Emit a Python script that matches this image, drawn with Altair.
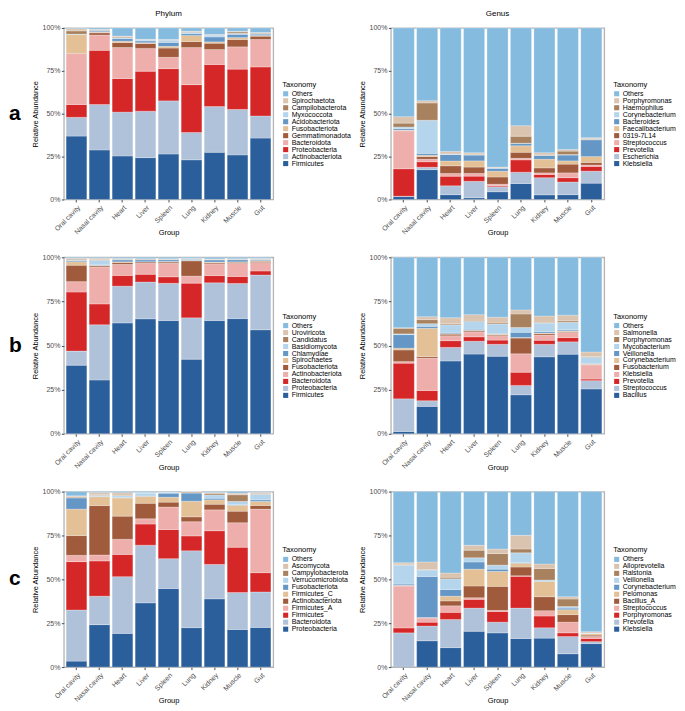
import altair as alt
import pandas as pd

FONT = "Liberation Sans"

groups = ["Oral cavity", "Nasal cavity", "Heart", "Liver", "Spleen",
          "Lung", "Kidney", "Muscle", "Gut"]

# colours by stack position (bottom -> top, last = Others)
palette = ["#2b5f9c", "#afc2da", "#d62728", "#eeaeab", "#a05a3c",
           "#e3c095", "#6496c6", "#b4d5ec", "#a8825f", "#dbc4af", "#85bbdf"]

# ---------------- a : Phylum (bottom -> top) ----------------
a_phylum_taxa = ["Firmicutes", "Actinobacteriota", "Proteobacteria", "Bacteroidota",
                 "Gemmatimonadota", "Fusobacteriota", "Acidobacteriota", "Myxococcota",
                 "Campilobacterota", "Spirochaetota", "Others"]
a_phylum = {
    "Firmicutes":       [37.1, 28.8, 25.4, 24.4, 26.5, 23.1, 27.5, 26.0, 35.8],
    "Actinobacteriota": [11.0, 26.4, 25.6, 27.1, 31.0, 15.9, 26.7, 26.5, 12.9],
    "Proteobacteria":   [7.5, 31.5, 19.6, 23.3, 18.8, 27.9, 24.6, 23.5, 28.6],
    "Bacteroidota":     [29.8, 8.9, 18.1, 13.3, 6.6, 21.6, 8.7, 13.0, 16.0],
    "Gemmatimonadota":  [0.2, 1.3, 2.9, 2.9, 5.4, 3.5, 3.7, 4.3, 1.9],
    "Fusobacteriota":   [10.9, 0.4, 0.8, 0.4, 1.0, 3.5, 0.8, 1.1, 0.4],
    "Acidobacteriota":  [0.2, 0.6, 1.5, 1.0, 2.3, 1.1, 2.9, 1.9, 0.8],
    "Myxococcota":      [0.1, 0.4, 0.6, 0.6, 1.3, 0.8, 1.0, 0.6, 0.4],
    "Campilobacterota": [1.9, 0.4, 0.6, 0.2, 0.2, 0.4, 0.2, 0.8, 0.4],
    "Spirochaetota":    [1.3, 0.2, 0.3, 0.2, 0.2, 0.2, 0.2, 0.4, 0.2],
    "Others":           [0.4, 0.8, 4.7, 6.6, 6.7, 1.9, 3.8, 1.9, 2.6],
}

# ---------------- a : Genus ----------------
a_genus_taxa = ["Klebsiella", "Escherichia", "Prevotella", "Streptococcus", "0319-7L14",
                "Faecalibacterium", "Bacteroides", "Corynebacterium", "Haemophilus",
                "Porphyromonas", "Others"]
a_genus = {
    "Klebsiella":       [1.7, 17.4, 2.8, 1.0, 4.5, 9.3, 2.7, 2.8, 9.5],
    "Escherichia":      [0.2, 1.4, 5.2, 9.6, 2.9, 6.6, 10.0, 7.4, 7.0],
    "Prevotella":       [16.1, 3.2, 5.6, 3.0, 0.6, 7.2, 1.9, 2.5, 2.8],
    "Streptococcus":    [22.2, 1.5, 1.6, 1.6, 0.9, 0.9, 0.9, 2.8, 0.8],
    "0319-7L14":        [0.2, 1.5, 4.5, 3.7, 4.2, 3.5, 2.9, 5.1, 1.5],
    "Faecalibacterium": [0.2, 0.8, 2.8, 3.6, 3.4, 3.8, 5.1, 1.9, 3.4],
    "Bacteroides":      [0.9, 1.1, 3.8, 3.4, 1.7, 1.3, 2.1, 3.4, 9.8],
    "Corynebacterium":  [0.9, 19.3, 0.3, 0.2, 0.2, 0.2, 0.2, 0.3, 0.3],
    "Haemophilus":      [2.3, 10.1, 0.4, 0.3, 0.1, 4.1, 0.5, 2.0, 0.3],
    "Porphyromonas":    [3.8, 1.3, 1.1, 0.8, 0.4, 6.1, 1.0, 1.0, 0.6],
    "Others":           [51.9, 42.4, 72.2, 72.8, 81.1, 57.0, 72.7, 70.8, 64.0],
}

# ---------------- b : Phylum ----------------
b_phylum_taxa = ["Firmicutes", "Proteobacteria", "Bacteroidota", "Actinobacteriota",
                 "Fusobacteriota", "Spirochaetes", "Chlamydiae", "Basidiomycota",
                 "Candidatus", "Uroviricota", "Others"]
b_phylum = {
    "Firmicutes":       [38.9, 30.7, 63.0, 65.4, 64.4, 42.4, 64.4, 65.6, 59.4],
    "Proteobacteria":   [8.0, 31.5, 20.9, 20.9, 21.2, 23.5, 21.5, 20.0, 31.3],
    "Bacteroidota":     [33.5, 11.9, 6.1, 4.4, 3.7, 19.7, 4.1, 4.0, 2.3],
    "Actinobacteriota": [5.9, 21.1, 6.3, 6.3, 7.7, 4.0, 6.7, 7.4, 4.8],
    "Fusobacteriota":   [9.3, 0.7, 1.1, 0.7, 0.7, 8.7, 0.7, 0.7, 0.7],
    "Spirochaetes":     [2.0, 0.2, 0.3, 0.2, 0.3, 0.3, 0.3, 0.2, 0.4],
    "Chlamydiae":       [0.7, 0.3, 1.1, 1.1, 1.0, 0.6, 1.2, 1.2, 0.6],
    "Basidiomycota":    [0.2, 2.6, 0.3, 0.2, 0.2, 0.1, 0.2, 0.2, 0.2],
    "Candidatus":       [0.5, 0.3, 0.2, 0.2, 0.2, 0.2, 0.2, 0.2, 0.2],
    "Uroviricota":      [0.6, 0.9, 0.3, 0.2, 0.2, 0.2, 0.2, 0.2, 0.3],
    "Others":           [0.5, 0.5, 0.7, 0.8, 0.8, 0.6, 0.9, 0.8, 0.6],
}

# ---------------- b : Genus ----------------
b_genus_taxa = ["Bacillus", "Streptococcus", "Prevotella", "Klebsiella", "Fusobacterium",
                "Corynebacterium", "Veillonella", "Mycobacterium", "Porphyromonas",
                "Salmonella", "Others"]
b_genus = {
    "Bacillus":         [1.3, 15.5, 41.3, 45.3, 44.0, 22.1, 43.8, 45.1, 25.5],
    "Streptococcus":    [18.5, 3.2, 7.7, 7.3, 6.8, 5.3, 7.1, 7.0, 4.7],
    "Prevotella":       [20.2, 5.8, 3.8, 2.5, 2.4, 7.5, 2.3, 2.4, 0.9],
    "Klebsiella":       [0.9, 18.3, 2.8, 2.8, 2.5, 10.4, 3.0, 2.9, 7.9],
    "Fusobacterium":    [6.6, 0.9, 0.9, 0.6, 0.6, 8.9, 0.8, 0.6, 0.4],
    "Corynebacterium":  [1.0, 16.0, 0.3, 0.3, 0.3, 0.3, 0.3, 0.3, 0.3],
    "Veillonella":      [7.7, 1.1, 0.7, 0.6, 0.4, 3.0, 0.8, 0.6, 0.3],
    "Mycobacterium":    [0.4, 1.5, 4.3, 4.5, 5.3, 2.7, 4.9, 4.3, 3.5],
    "Porphyromonas":    [3.2, 2.3, 0.6, 0.6, 0.6, 7.7, 0.4, 0.8, 0.4],
    "Salmonella":       [0.3, 1.7, 3.4, 3.2, 3.3, 2.3, 3.6, 3.2, 2.6],
    "Others":           [39.9, 33.6, 34.3, 32.6, 34.0, 29.8, 33.4, 32.8, 53.8],
}

# ---------------- c : Phylum ----------------
c_phylum_taxa = ["Proteobacteria", "Bacteroidota", "Firmicutes", "Firmicutes_A",
                 "Actinobacteriota", "Firmicutes_C", "Fusobacteriota", "Verrucomicrobiota",
                 "Campylobacterota", "Ascomycota", "Others"]
c_phylum = {
    "Proteobacteria":    [3.4, 24.3, 19.2, 36.8, 44.7, 22.5, 38.9, 21.5, 22.6],
    "Bacteroidota":      [29.2, 16.3, 32.3, 33.0, 17.0, 43.9, 19.6, 21.1, 20.2],
    "Firmicutes":        [27.6, 20.2, 12.7, 12.1, 16.6, 8.5, 19.2, 25.9, 11.0],
    "Firmicutes_A":      [3.6, 3.4, 8.6, 3.0, 12.8, 8.1, 11.9, 14.0, 36.2],
    "Actinobacteriota":  [11.3, 28.3, 13.2, 8.9, 2.8, 2.8, 3.2, 6.6, 2.1],
    "Firmicutes_C":      [15.1, 5.1, 10.4, 4.0, 2.8, 8.9, 2.5, 3.4, 2.3],
    "Fusobacteriota":    [6.4, 0.2, 0.2, 0.2, 2.3, 4.7, 0.9, 0.3, 0.9],
    "Verrucomicrobiota": [0.2, 0.6, 1.0, 1.7, 0.3, 0.1, 1.9, 1.9, 3.2],
    "Campylobacterota":  [0.6, 0.3, 0.3, 0.1, 0.1, 0.5, 0.9, 3.8, 0.2],
    "Ascomycota":        [0.4, 1.3, 1.5, 0.2, 0.1, 0.1, 0.5, 0.9, 0.9],
    "Others":            [2.4, 0.5, 0.6, 0.5, 0.4, 0.1, 0.5, 0.9, 0.4],
}

# ---------------- c : Genus ----------------
c_genus_taxa = ["Klebsiella", "Prevotella", "Porphyromonas", "Streptococcus", "Bacillus_A",
                "Pelomonas", "Corynebacterium", "Veillonella", "Ralstonia",
                "Alloprevotella", "Others"]
c_genus = {
    "Klebsiella":      [0.4, 15.0, 11.1, 20.4, 19.5, 16.3, 16.5, 7.6, 13.4],
    "Prevotella":      [19.1, 8.4, 16.0, 13.2, 6.1, 17.3, 5.9, 9.8, 1.1],
    "Porphyromonas":   [2.8, 2.2, 4.1, 5.0, 6.1, 18.2, 6.7, 2.1, 1.8],
    "Streptococcus":   [23.9, 2.4, 3.7, 0.9, 0.6, 0.2, 3.0, 6.1, 1.1],
    "Bacillus_A":      [0.2, 0.2, 2.8, 6.7, 13.7, 5.0, 8.0, 4.3, 0.8],
    "Pelomonas":       [0.2, 0.1, 2.7, 9.6, 8.5, 2.2, 8.7, 2.8, 0.9],
    "Corynebacterium": [0.7, 23.4, 3.8, 4.1, 1.3, 0.3, 0.2, 0.9, 0.1],
    "Veillonella":     [10.8, 3.7, 6.1, 2.4, 2.3, 5.6, 0.6, 0.9, 0.2],
    "Ralstonia":       [0.2, 0.2, 0.9, 4.3, 6.6, 2.2, 6.6, 4.3, 0.4],
    "Alloprevotella":  [1.1, 4.4, 2.4, 2.8, 2.6, 7.8, 2.6, 1.3, 0.4],
    "Others":          [40.6, 40.1, 46.4, 30.6, 32.7, 24.9, 41.2, 59.9, 79.8],
}


def panel(values, taxa, width, height, title=None, row_label=None):
    rows = []
    for i, t in enumerate(taxa):
        for g, v in zip(groups, values[t]):
            rows.append({"Group": g, "Taxonomy": t, "Abundance": v, "idx": i})
    df = pd.DataFrame(rows)
    legend_domain = taxa[::-1]
    legend_range = palette[::-1]
    legend_y = (height - 66) / 2

    bars = alt.Chart(df).mark_bar(stroke="white", strokeWidth=0.35, strokeOpacity=0.7).encode(
        x=alt.X("Group:N", sort=groups,
                scale=alt.Scale(paddingInner=0.1, paddingOuter=0.1),
                axis=alt.Axis(title="Group", labelAngle=-45, titlePadding=-6)),
        y=alt.Y("Abundance:Q", stack="normalize",
                scale=alt.Scale(domain=[0, 1], nice=False),
                axis=alt.Axis(title="Relative Abundance", format=".0%",
                              values=[0, 0.25, 0.5, 0.75, 1])),
        color=alt.Color("Taxonomy:N",
                        scale=alt.Scale(domain=legend_domain, range=legend_range),
                        legend=alt.Legend(title="Taxonomy", orient="none",
                                          legendX=width + 9, legendY=legend_y)),
        order=alt.Order("idx:Q", sort="ascending"),
    )
    layers = [bars]
    if row_label is not None:
        lab = alt.Chart(pd.DataFrame({"t": [row_label]})).mark_text(
            align="left", baseline="middle", fontSize=21, fontWeight="bold",
            font=FONT, color="black"
        ).encode(x=alt.value(-55), y=alt.value(height / 2), text="t:N")
        layers.append(lab)
    props = dict(width=width, height=height)
    if title is not None:
        props["title"] = alt.TitleParams(title, fontSize=8, fontWeight="normal",
                                         anchor="middle", frame="group", offset=6,
                                         font=FONT, color="black")
    return alt.layer(*layers).properties(**props)


WL, WR = 210, 214
HA, HB, HC = 172, 177, 176

left = alt.vconcat(
    panel(a_phylum, a_phylum_taxa, WL, HA, title="Phylum", row_label="a"),
    panel(b_phylum, b_phylum_taxa, WL, HB, row_label="b"),
    panel(c_phylum, c_phylum_taxa, WL, HC, row_label="c"),
    spacing=15,
).resolve_scale(color="independent").resolve_legend(color="independent")
right = alt.vconcat(
    panel(a_genus, a_genus_taxa, WR, HA, title="Genus"),
    panel(b_genus, b_genus_taxa, WR, HB),
    panel(c_genus, c_genus_taxa, WR, HC),
    spacing=15,
).resolve_scale(color="independent").resolve_legend(color="independent")

chart = alt.hconcat(left, right, spacing=4).resolve_scale(
    color="independent"
).resolve_legend(color="independent").properties(
    padding={"left": 0, "top": 0, "right": 0, "bottom": 0}, background="white"
).configure_view(
    stroke="#b3b3b3", strokeWidth=1.3
).configure_axis(
    labelFont=FONT, titleFont=FONT, labelFontSize=7, titleFontSize=7.5,
    labelColor="#4d4d4d", titleColor="black", tickColor="#4d4d4d",
    tickSize=2.5, domain=False, grid=False, labelPadding=1.5, titlePadding=3,
    titleFontWeight="normal",
).configure_legend(
    titleFont=FONT, labelFont=FONT, titleFontSize=7.5, labelFontSize=7,
    titleFontWeight="normal", titleColor="black", labelColor="black",
    symbolType="square", symbolSize=26, symbolStrokeWidth=0,
    rowPadding=-2, labelOffset=2.5, titlePadding=2, padding=0,
    labelLimit=90,
)

chart.save("out.html", embed_options={"renderer": "svg", "actions": False})
